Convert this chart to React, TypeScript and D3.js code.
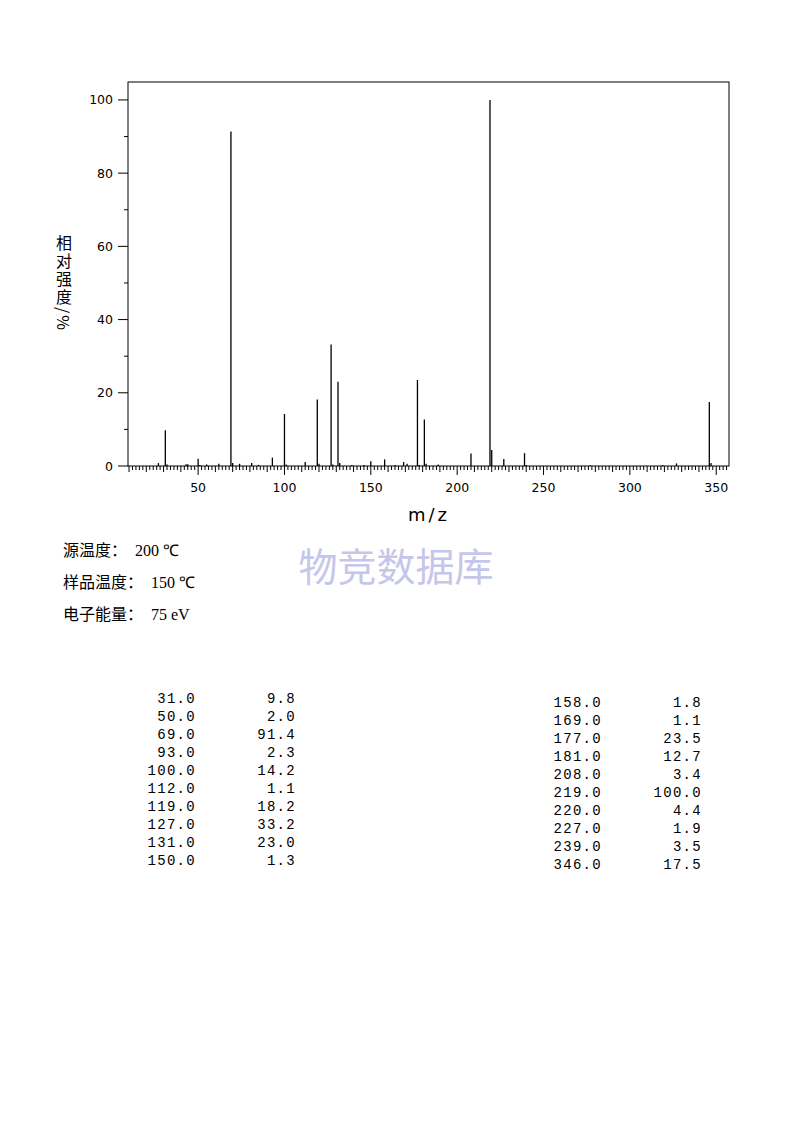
import React from "react";
import * as d3 from "d3";

// listed peaks (m/z, relative intensity %)
const leftMz = [31, 50, 69, 93, 100, 112, 119, 127, 131, 150];
const leftInt = [9.8, 2.0, 91.4, 2.3, 14.2, 1.1, 18.2, 33.2, 23.0, 1.3];
const rightMz = [158, 169, 177, 181, 208, 219, 220, 227, 239, 346];
const rightInt = [1.8, 1.1, 23.5, 12.7, 3.4, 100.0, 4.4, 1.9, 3.5, 17.5];

// small unlisted peaks (< 1 %)
const minorMz = [27, 32, 43, 44, 51, 55, 62, 70, 74, 81, 85, 101, 120, 128, 132, 139, 146, 164, 171, 178, 182, 189, 240, 277, 319, 327, 347];
const minorInt = [0.8, 0.4, 0.5, 0.5, 0.3, 0.4, 0.6, 0.8, 0.6, 0.8, 0.3, 0.4, 0.6, 0.4, 0.8, 0.3, 0.3, 0.3, 0.6, 0.3, 0.6, 0.4, 0.3, 0.2, 0.3, 0.7, 0.8];

const xTickLabels = [50, 100, 150, 200, 250, 300, 350];
const yTickLabels = [0, 20, 40, 60, 80, 100];

const infoLabels = ["源温度：", "样品温度：", "电子能量："];
const infoValues = ["200 ℃", "150 ℃", "75 eV"];

const App: React.FC = () => {
  const W = 794;
  const H = 1134;
  const plot = { left: 128, right: 729, top: 82, bottom: 466 };

  const x = d3.scaleLinear().domain([9.4, 357.4]).range([plot.left, plot.right]);
  const y = d3.scaleLinear().domain([0, 104.9]).range([plot.bottom, plot.top]);

  const peaks = [
    ...leftMz.map((m, i) => ({ mz: m, v: leftInt[i] })),
    ...rightMz.map((m, i) => ({ mz: m, v: rightInt[i] })),
    ...minorMz.map((m, i) => ({ mz: m, v: minorInt[i] })),
  ];

  const xMinor = d3.range(10, 357, 2);
  const yMinor = d3.range(10, 101, 20);

  const mono = "'Liberation Mono', 'DejaVu Sans Mono', monospace";
  const sans = "'DejaVu Sans', sans-serif";
  const cjk = "'Noto Sans CJK SC', sans-serif";

  const fmt = d3.format(".1f");

  return (
    <svg
      width={W}
      height={H}
      style={{ position: "absolute", left: 0, top: 0, background: "#fff" }}
    >
      <rect x={0} y={0} width={W} height={H} fill="#fff" />

      {/* frame */}
      <rect
        x={plot.left}
        y={plot.top}
        width={plot.right - plot.left}
        height={plot.bottom - plot.top}
        fill="none"
        stroke="#000"
        strokeWidth={1}
      />

      {/* x ticks */}
      {xMinor.map((t) => {
        const len = t % 50 === 0 ? 9 : t % 10 === 0 ? 6 : 4;
        return (
          <line
            key={"xt" + t}
            x1={x(t)}
            x2={x(t)}
            y1={plot.bottom}
            y2={plot.bottom + len}
            stroke="#000"
            strokeWidth={1}
          />
        );
      })}
      {xTickLabels.map((t) => (
        <text
          key={"xl" + t}
          x={x(t)}
          y={492}
          textAnchor="middle"
          fontFamily={sans}
          fontSize={12.5}
          fill="#000"
        >
          {t}
        </text>
      ))}
      <text
        x={429}
        y={521}
        textAnchor="middle"
        fontFamily={sans}
        fontSize={18}
        letterSpacing={3}
        fill="#000"
      >
        m/z
      </text>

      {/* y ticks */}
      {yTickLabels.map((t) => (
        <g key={"yt" + t}>
          <line x1={plot.left - 10} x2={plot.left} y1={y(t)} y2={y(t)} stroke="#000" />
          <text
            x={113}
            y={y(t)}
            dy="0.36em"
            textAnchor="end"
            fontFamily={sans}
            fontSize={12.5}
            fill="#000"
          >
            {t}
          </text>
        </g>
      ))}
      {yMinor.map((t) => (
        <line key={"ym" + t} x1={plot.left - 4} x2={plot.left} y1={y(t)} y2={y(t)} stroke="#000" />
      ))}
      <text
        x={64}
        y={235}
        style={{ writingMode: "vertical-rl" }}
        fontFamily={cjk}
        fontSize={16}
        letterSpacing={2}
        fill="#000"
      >
        相对强度/%
      </text>

      {/* peaks */}
      {peaks.map((p, i) => (
        <line
          key={"p" + i}
          x1={x(p.mz)}
          x2={x(p.mz)}
          y1={plot.bottom}
          y2={y(p.v)}
          stroke="#000"
          strokeWidth={1.3}
        />
      ))}

      {/* conditions */}
      {infoLabels.map((s, i) => (
        <g key={"info" + i} fill="#000">
          <text x={63} y={556 + i * 32} fontFamily={cjk} fontSize={16}>
            {s}
          </text>
          <text
            x={63 + s.length * 16 + 8}
            y={556 + i * 32}
            fontFamily="'Liberation Serif', serif"
            fontSize={16}
          >
            {infoValues[i]}
          </text>
        </g>
      ))}

      {/* watermark */}
      <text
        x={396}
        y={581}
        textAnchor="middle"
        fontFamily={cjk}
        fontSize={39}
        fill="#c6c6ea"
      >
        物竞数据库
      </text>

      {/* peak tables */}
      {leftMz.map((m, i) => (
        <g key={"lt" + i} fontFamily={mono} fontSize={14} letterSpacing={1.3} fill="#000">
          <text x={196} y={703 + i * 18} textAnchor="end">
            {fmt(m)}
          </text>
          <text x={296} y={703 + i * 18} textAnchor="end">
            {fmt(leftInt[i])}
          </text>
        </g>
      ))}
      {rightMz.map((m, i) => (
        <g key={"rt" + i} fontFamily={mono} fontSize={14} letterSpacing={1.3} fill="#000">
          <text x={602} y={707 + i * 18} textAnchor="end">
            {fmt(m)}
          </text>
          <text x={702} y={707 + i * 18} textAnchor="end">
            {fmt(rightInt[i])}
          </text>
        </g>
      ))}
    </svg>
  );
};

export default App;
